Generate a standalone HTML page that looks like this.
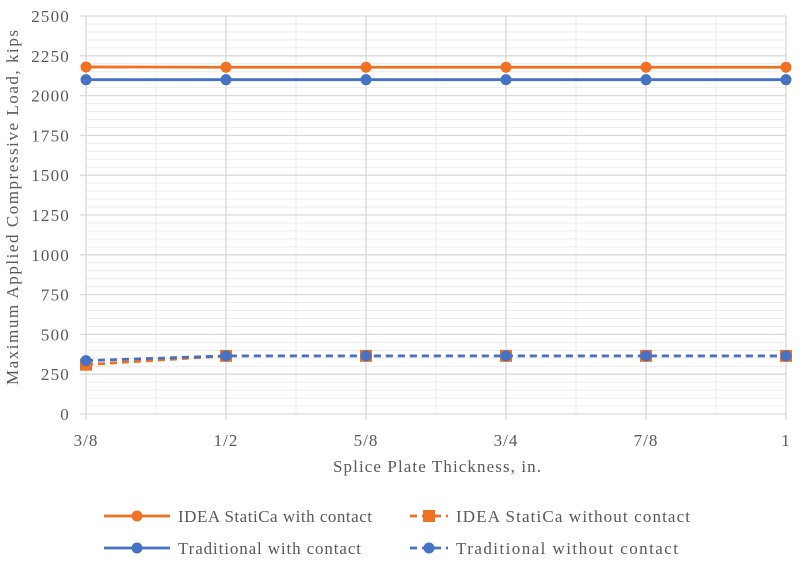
<!DOCTYPE html>
<html><head><meta charset="utf-8"><style>
body{margin:0;background:#fff}
svg{display:block;font-family:"Liberation Serif",serif}
</style></head><body>
<svg id="c" width="800" height="562"></svg>
<script>
const categories=["3/8","1/2","5/8","3/4","7/8","1"];
const yTicks=[0,250,500,750,1000,1250,1500,1750,2000,2250,2500];
const ideaWith=[2180,2178,2178,2178,2178,2178];
const ideaWithout=[310,365,365,365,365,365];
const tradWith=[2100,2100,2100,2100,2100,2100];
const tradWithout=[335,365,365,365,365,365];
const NS="http://www.w3.org/2000/svg";
const svg=document.getElementById('c');
const X0=86,DX=140,Y0=414,YT=16,YMAX=2500;
const xs=i=>X0+i*DX;
const ys=v=>Y0-(v/YMAX)*(Y0-YT);
function el(t,a,p){const e=document.createElementNS(NS,t);for(const k in a)e.setAttribute(k,a[k]);(p||svg).appendChild(e);return e;}
for(let v=50;v<YMAX;v+=50){if(v%250){const l=el('line',{x1:X0,x2:xs(5),y1:ys(v),y2:ys(v),stroke:'#ececec','stroke-width':1});

}}
for(let i=0;i<5;i++){const l=el('line',{x1:xs(i)+DX/2,x2:xs(i)+DX/2,y1:YT,y2:Y0,stroke:'#ececec','stroke-width':1});

}
yTicks.forEach(v=>{const l=el('line',{x1:X0-6,x2:xs(5),y1:ys(v),y2:ys(v),stroke:'#d9d9d9','stroke-width':1.3});


const t=el('text',{x:70,y:ys(v)+6,'text-anchor':'end','font-size':17,'letter-spacing':1.2,fill:'#595959'});t.textContent=v;

});
categories.forEach((c,i)=>{const l=el('line',{x1:xs(i),x2:xs(i),y1:YT,y2:Y0+6,stroke:'#d9d9d9','stroke-width':1.3});


const t=el('text',{x:xs(i),y:446,'text-anchor':'middle','font-size':17,'letter-spacing':1,fill:'#595959'});t.textContent=c;

});
let t=el('text',{x:333,y:472,'font-size':17,textLength:208,lengthAdjust:'spacing',fill:'#595959'});t.textContent='Splice Plate Thickness, in.';


t=el('text',{x:0,y:0,'font-size':17,textLength:355,lengthAdjust:'spacing',fill:'#595959',transform:'translate(18,385) rotate(-90)'});t.textContent='Maximum Applied Compressive Load, kips';


function marker(x,y,shape,color,name){let m;
if(shape==='sq')m=el('rect',{x:x-6,y:y-6,width:12,height:12,fill:color});
else m=el('circle',{cx:x,cy:y,r:5.5,fill:color});

}
const series=[
 {d:ideaWith,c:'#f07122',dash:null,s:'c',n:'idea-with-contact'},
 {d:tradWith,c:'#4472c4',dash:null,s:'c',n:'traditional-with-contact'},
 {d:ideaWithout,c:'#f07122',dash:'7,5',s:'sq',n:'idea-without-contact'},
 {d:tradWithout,c:'#4472c4',dash:'7,5',s:'c',n:'traditional-without-contact'}];
series.forEach(s=>{const p=el('polyline',{points:s.d.map((v,i)=>xs(i)+','+ys(v)).join(' '),fill:'none',stroke:s.c,'stroke-width':2.8});
if(s.dash)p.setAttribute('stroke-dasharray',s.dash);


s.d.forEach((v,i)=>marker(xs(i),ys(v),s.s,s.c,s.n+'-point'));});
const legend=[
 {x:104,y:516,c:'#f07122',dash:null,s:'c',w:194,label:'IDEA StatiCa with contact'},
 {x:410,y:516,c:'#f07122',dash:'7,5',s:'sq',w:234,label:'IDEA StatiCa without contact'},
 {x:104,y:548,c:'#4472c4',dash:null,s:'c',w:183,label:'Traditional with contact'},
 {x:410,y:548,c:'#4472c4',dash:'7,5',s:'c',w:222,label:'Traditional without contact'}];
legend.forEach(g=>{const w=g.dash?38:66;const l=el('line',{x1:g.x,x2:g.x+w,y1:g.y,y2:g.y,stroke:g.c,'stroke-width':2.8});
if(g.dash)l.setAttribute('stroke-dasharray',g.dash);


marker(g.x+w/2,g.y,g.s,g.c,'legend-marker');
const t=el('text',{x:g.x+w+8,y:g.y+6,'font-size':17,textLength:g.w,lengthAdjust:'spacing',fill:'#595959'});t.textContent=g.label;

});
</script>
</body></html>
